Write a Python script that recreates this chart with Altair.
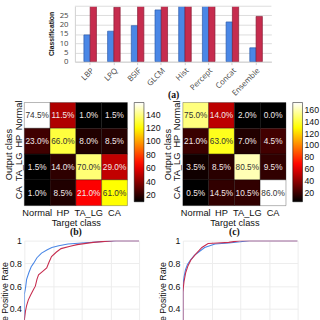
import altair as alt
import pandas as pd

# ---------------- data ----------------
methods = ["LBP", "LPQ", "BSIF", "GLCM", "Hist", "Percept", "Concat", "Ensemble"]
series = ["Series 1", "Series 2"]
err_blue = [14.5, 16.5, 19.5, 28, 34, 33, 21.5, 7.5]
err_red = [38, 29.5, 39, 42, 45, 41, 37, 24.5]
bar_ticks = [0, 5, 10, 15, 20, 25]
bar_top = [30]

classes = ["Normal", "HP", "TA_LG", "CA"]
# rows = output class, columns = target class
pct_b = [[74.5, 11.5, 1.0, 1.5],
         [23.0, 66.0, 8.0, 8.5],
         [1.5, 14.0, 70.0, 29.0],
         [1.0, 8.5, 21.0, 61.0]]
level_b = [[158, 48, 10, 10],
           [24, 130, 17, 18],
           [10, 20, 138, 52],
           [10, 17, 65, 121]]
pct_c = [[75.0, 14.0, 2.0, 0.0],
         [21.0, 63.0, 7.0, 4.5],
         [3.5, 8.5, 80.5, 9.5],
         [0.5, 14.5, 10.5, 86.0]]
level_c = [[151, 52, 6, 6],
           [20, 135, 14, 22],
           [10, 16, 160, 18],
           [6, 18, 18, 172]]
bar_ticks_b = [20, 40, 60, 80, 100, 120, 140]
bar_ticks_c = [20, 40, 60, 80, 100, 120, 140, 160]

roc_b_blue_fpr = [0, 0, 0.01, 0.02, 0.04, 0.06, 0.08, 0.11, 0.15, 0.2, 0.24, 0.3, 0.38, 0.5, 0.66, 0.8, 1.0]
roc_b_blue_tpr = [0, 0.53, 0.58, 0.66, 0.72, 0.77, 0.80, 0.85, 0.89, 0.92, 0.94, 0.955, 0.97, 0.98, 0.99, 1.0, 1.0]
roc_b_red_fpr = [0, 0, 0.01, 0.02, 0.035, 0.054, 0.08, 0.096, 0.11, 0.124, 0.16, 0.195, 0.215, 0.237, 0.28, 0.32, 0.4, 0.46, 0.6, 0.78, 1.0]
roc_b_red_tpr = [0, 0.3, 0.38, 0.43, 0.48, 0.52, 0.57, 0.60, 0.66, 0.70, 0.73, 0.76, 0.81, 0.86, 0.90, 0.93, 0.95, 0.965, 0.985, 1.0, 1.0]
roc_c_blue_fpr = [0, 0, 0.01, 0.023, 0.04, 0.066, 0.1, 0.138, 0.19, 0.28, 0.4, 0.5, 0.58, 1.0]
roc_c_blue_tpr = [0, 0.6, 0.68, 0.745, 0.79, 0.83, 0.87, 0.90, 0.94, 0.97, 0.98, 0.99, 1.0, 1.0]
roc_c_red_fpr = [0, 0, 0.01, 0.025, 0.045, 0.07, 0.11, 0.166, 0.22, 0.3, 0.4, 0.5, 1.0]
roc_c_red_tpr = [0, 0.55, 0.64, 0.72, 0.78, 0.83, 0.88, 0.94, 0.975, 0.98, 0.985, 1.0, 1.0]

SANS = "Liberation Sans"
SERIF = "Liberation Serif"


def spacer(w, h):
    return alt.Chart(pd.DataFrame({"v": [0]})).mark_point(opacity=0, size=1).encode(
        x=alt.value(1), y=alt.value(1)
    ).properties(width=w, height=h)


# ---------------- (a) bar chart ----------------
bar_df = pd.DataFrame({
    "method": methods * 2,
    "series": [series[0]] * len(methods) + [series[1]] * len(methods),
    "value": err_blue + err_red,
})
y_axis = alt.Axis(values=bar_ticks, title="Classification",
                  labelFontSize=8, labelFont="Open Sans", labelColor="#444",
                  domain=True, domainColor="#d0d0d0", ticks=False, gridColor="#dcdcdc",
                  labelPadding=7,
                  titleFont=SANS, titleFontSize=7, titleFontWeight="bold",
                  titleColor="#111", titleX=-21, titleY=28)
y_scale = alt.Scale(domain=[0, 30])

bars = alt.Chart(bar_df).mark_bar(clip=True, strokeWidth=0.7).encode(
    x=alt.X("method:N", sort=methods,
            scale=alt.Scale(paddingInner=0.47, paddingOuter=0.38),
            axis=alt.Axis(title="(a)", labelAngle=-45, labelFontSize=8, labelFont="Open Sans",
                          labelColor="#444", domainColor="#d0d0d0", tickColor="#d0d0d0",
                          tickSize=3, titleFont=SERIF, titleFontSize=10, titleFontWeight="bold",
                          titleColor="#111", titleY=29, titleBaseline="top")),
    xOffset=alt.XOffset("series:N", sort=series),
    y=alt.Y("value:Q", scale=y_scale, axis=y_axis),
    color=alt.Color("series:N", sort=series,
                    scale=alt.Scale(domain=series, range=["#4a87e6", "#c62c4e"]), legend=None),
    stroke=alt.Stroke("series:N", sort=series,
                      scale=alt.Scale(domain=series, range=["#2a58a8", "#861a33"]), legend=None),
)
top_grid = alt.Chart(pd.DataFrame({"value": bar_top})).mark_rule(
    color="#dcdcdc", strokeWidth=1).encode(y=alt.Y("value:Q", scale=y_scale, axis=y_axis))
bar = alt.layer(bars, top_grid).properties(width=202, height=57)

row1 = alt.hconcat(spacer(23, 96), bar, spacing=0)


# ---------------- heatmaps ----------------
def heat_df(pct, lev):
    rows = []
    for i, out in enumerate(classes):
        for j, tgt in enumerate(classes):
            rows.append({"out": out, "tgt": tgt, "pct": pct[i][j], "level": lev[i][j],
                         "label": f"{pct[i][j]:.1f}%"})
    return pd.DataFrame(rows)


def heatmap(pct, lev, lo, hi, ticks, tag):
    df = heat_df(pct, lev)
    span = hi - lo
    cscale = alt.Scale(domain=[lo, lo + 0.375 * span, lo + 0.75 * span, hi],
                       range=["#000000", "#ff0000", "#ffff00", "#ffffff"], interpolate="rgb")
    base = alt.Chart(df).encode(
        x=alt.X("tgt:N", sort=classes,
                axis=alt.Axis(title="Target class", labelAngle=0, ticks=False, domain=False,
                              labelFont=SANS, labelFontSize=9.5, labelColor="#111", labelPadding=2,
                              titleFont=SANS, titleFontSize=9.5, titleFontWeight="normal",
                              titleColor="#111", titlePadding=1)),
        y=alt.Y("out:N", sort=classes,
                axis=alt.Axis(title="Output class", labelAngle=-90, labelAlign="center",
                              labelBaseline="bottom", ticks=False, domain=False,
                              labelFont=SANS, labelFontSize=9.5, labelColor="#111", labelPadding=1,
                              titleFont=SANS, titleFontSize=9.5, titleFontWeight="normal",
                              titleColor="#111", titlePadding=0)),
    )
    rect = base.mark_rect(stroke="#000", strokeWidth=0.3).encode(
        color=alt.Color("level:Q", scale=cscale,
                        legend=alt.Legend(title=None, values=ticks, gradientLength=102,
                                          gradientThickness=10, labelFont=SANS, labelFontSize=9,
                                          labelColor="#111", gradientStrokeColor="#000",
                                          gradientStrokeWidth=0.5, offset=7, tickCount=len(ticks),
                                          labelOverlap=False)))
    text = base.mark_text(font=SANS, fontSize=8.5).encode(
        text="label:N",
        color=alt.condition(alt.datum.level > 100, alt.value("#333333"), alt.value("#f2e8e8")))
    return alt.layer(rect, text).properties(
        width=106, height=106,
        title=alt.TitleParams(tag, orient="bottom", font=SERIF, fontSize=10, fontWeight="bold",
                              color="#111", offset=0))


hb = heatmap(pct_b, level_b, 10, 158, bar_ticks_b, "(b)")
hc = heatmap(pct_c, level_c, 6, 172, bar_ticks_c, "(c)")
row2 = alt.hconcat(hb, hc, spacing=0).resolve_scale(color="independent")


# ---------------- ROC curves ----------------
def roc_df(bf, bt, rf, rt):
    rows = []
    for k, (f, t) in enumerate(zip(bf, bt)):
        rows.append({"fpr": f, "tpr": t, "curve": "A", "idx": k})
    for k, (f, t) in enumerate(zip(rf, rt)):
        rows.append({"fpr": f, "tpr": t, "curve": "B", "idx": k})
    return pd.DataFrame(rows)


def roc(df):
    return alt.Chart(df).mark_line(strokeWidth=1.1, clip=True).encode(
        x=alt.X("fpr:Q", scale=alt.Scale(domain=[0, 1]),
                axis=alt.Axis(values=[0, 0.25, 0.5, 0.75, 1], title="False Positive Rate",
                              gridColor="#ececec", domain=False, ticks=False,
                              labelFont=SANS, labelFontSize=9, format="~g")),
        y=alt.Y("tpr:Q", scale=alt.Scale(domain=[0, 1]),
                axis=alt.Axis(values=[0, 0.2, 0.4, 0.6, 0.8, 1], title="True Positive Rate",
                              gridColor="#ececec", domain=False, ticks=False, format="~g",
                              labelFont=SANS, labelFontSize=9, labelColor="#111", labelPadding=3,
                              titleFont=SANS, titleFontSize=9, titleFontWeight="normal",
                              titleColor="#111", titlePadding=0)),
        color=alt.Color("curve:N", scale=alt.Scale(domain=["A", "B"], range=["#4b3fd2", "#d4456a"]),
                        legend=None),
        order="idx:Q",
    ).properties(width=118, height=117)


rb = roc(roc_df(roc_b_blue_fpr, roc_b_blue_tpr, roc_b_red_fpr, roc_b_red_tpr))
rc = roc(roc_df(roc_c_blue_fpr, roc_c_blue_tpr, roc_c_red_fpr, roc_c_red_tpr))
row3 = alt.hconcat(rb, rc, spacing=20)

chart = alt.vconcat(row1, row2, row3, spacing=0).configure_view(stroke=None).properties(
    padding={"left": 0, "top": 0, "right": 0, "bottom": 0},
    background="white",
)

chart.save("out.html", embed_options={"renderer": "svg", "actions": False})
